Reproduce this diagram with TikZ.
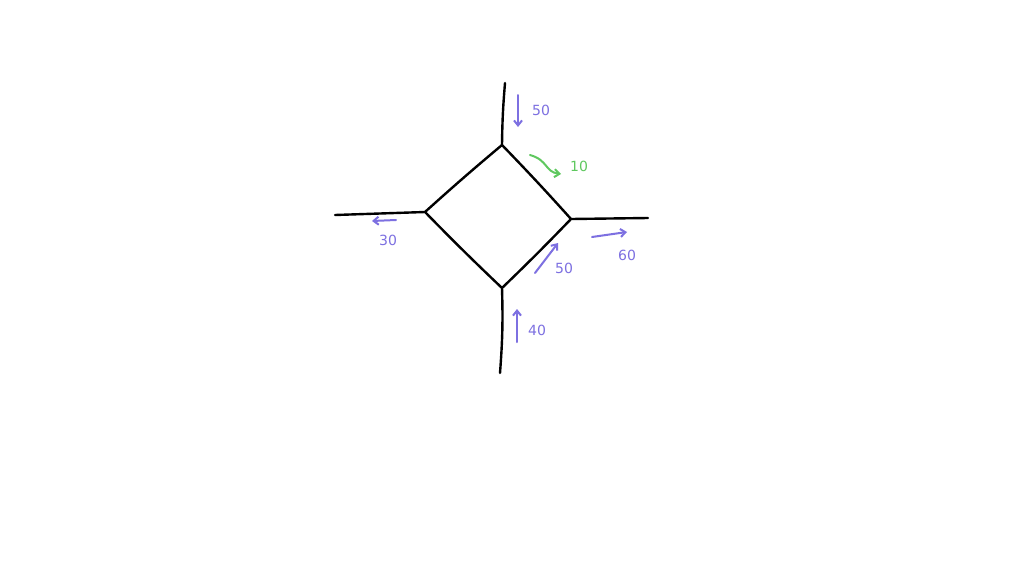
\documentclass[tikz,border=0pt]{standalone}
\usepackage{fontspec}
\setmainfont{DejaVu Sans}
\definecolor{flow}{RGB}{125,112,225}
\definecolor{flowg}{RGB}{95,200,95}
\usetikzlibrary{arrows.meta}
\tikzset{
  road/.style={black, line width=2.4pt, line cap=round, line join=round},
  flowarrow/.style={flow, line width=2pt, -{Straight Barb[length=5pt,width=8pt]}, line cap=round},
  greenarrow/.style={flowg, line width=2pt, -{Straight Barb[length=5pt,width=8pt]}, line cap=round},
  lbl/.style={flow, font=\fontsize{14}{15}\selectfont, inner sep=0pt},
  lblg/.style={flowg, font=\fontsize{14}{15}\selectfont, inner sep=0pt}
}
\begin{document}
\begin{tikzpicture}[x=1pt,y=-1pt]
\useasboundingbox[fill=white] (0,0) rectangle (1024,576);
% junction vertices
\coordinate (T) at (502,145);
\coordinate (R) at (571,219);
\coordinate (B) at (502,288);
\coordinate (L) at (425,212);
% stub ends
\coordinate (Te) at (505,83);
\coordinate (Re) at (648,218);
\coordinate (Be) at (500,373);
\coordinate (Le) at (335,215);
% roads
\draw[road] (T) to[bend left=1] (R) to[bend left=1] (B) to[bend left=1] (L) to[bend left=1] (T);
\draw[road] (T) to[bend left=2] (Te);
\draw[road] (R) -- (Re);
\draw[road] (B) to[bend left=3] (Be);
\draw[road] (L) -- (Le);
% flow arrows
\coordinate (a1s) at (518,95); \coordinate (a1e) at (518,127);
\draw[flowarrow] (a1s) -- (a1e);
\node[lbl] (n1) at (541,110) {50};
\coordinate (g1s) at (530,155); \coordinate (g1e) at (561,174);
\draw[greenarrow] (g1s) .. controls (548,160) and (545,172) .. (g1e);
\node[lblg] (n2) at (579,166) {10};
\coordinate (a2s) at (396,220); \coordinate (a2e) at (372,221);
\draw[flowarrow] (a2s) -- (a2e);
\node[lbl] (n3) at (388,240) {30};
\coordinate (a3s) at (535,273); \coordinate (a3e) at (558,243);
\draw[flowarrow] (a3s) -- (a3e);
\node[lbl] (n4) at (564,268) {50};
\coordinate (a4s) at (592,237); \coordinate (a4e) at (627,232);
\draw[flowarrow] (a4s) -- (a4e);
\node[lbl] (n5) at (627,255) {60};
\coordinate (a5s) at (517,342); \coordinate (a5e) at (517,309);
\draw[flowarrow] (a5s) -- (a5e);
\node[lbl] (n6) at (537,330) {40};
\end{tikzpicture}
\end{document}
